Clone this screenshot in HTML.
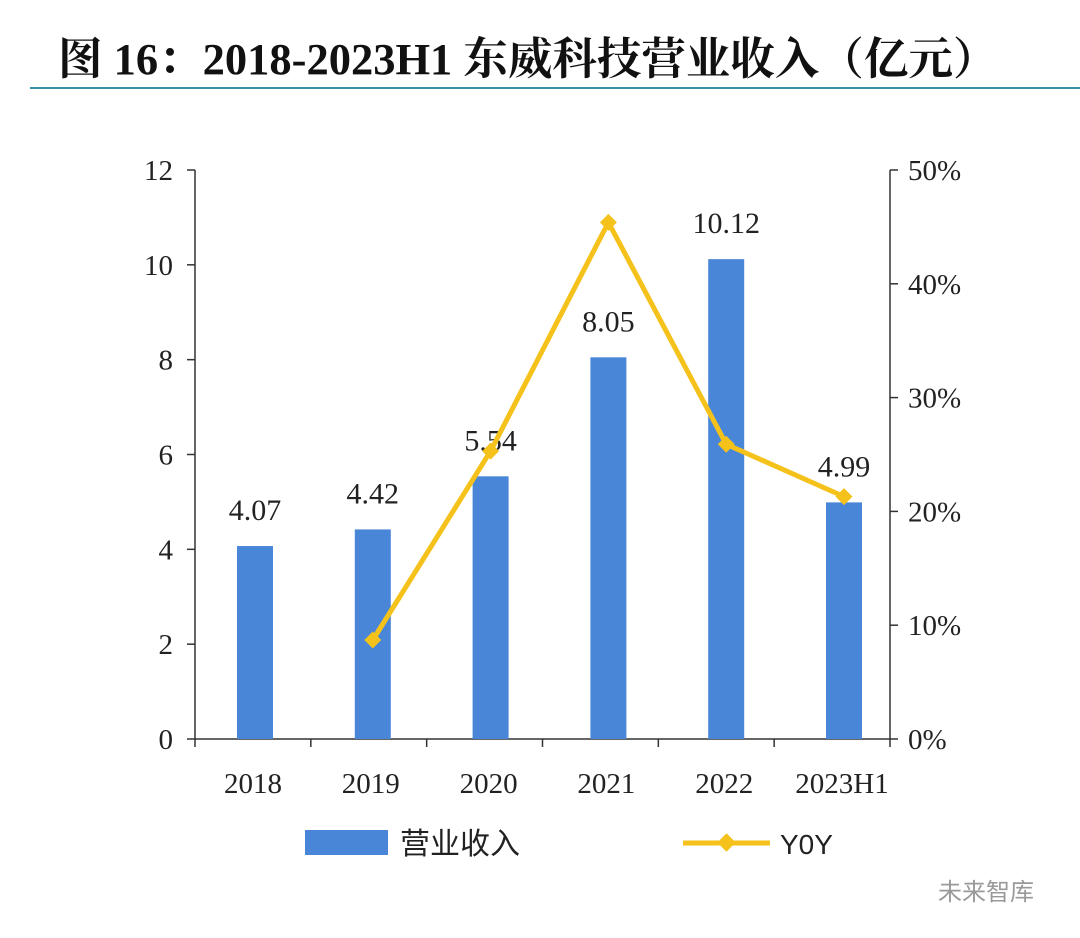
<!DOCTYPE html>
<html><head><meta charset="utf-8">
<style>
body{margin:0;background:#fff;width:1080px;height:938px;overflow:hidden;font-family:"Liberation Serif","Noto Serif CJK SC",serif;}
svg{display:block}
</style></head>
<body>
<svg width="1080" height="938">
<text x="58" y="74" font-size="44.5" font-family="Liberation Serif, Noto Serif CJK SC, serif" font-weight="bold" fill="#111">图 16：2018-2023H1 东威科技营业收入（亿元）</text>
<rect x="30" y="87" width="1050" height="2" fill="#3a8fa8"/>
<g id="plot"></g>
<g>
<rect x="305" y="830" width="83" height="25" fill="#4a86d8"/>
<text x="400" y="854" font-size="30" font-family="Liberation Sans, Noto Sans CJK SC, sans-serif" fill="#222">营业收入</text>
<line x1="683" y1="843" x2="770" y2="843" stroke="#f5c21b" stroke-width="5"/>
<rect x="720" y="836" width="13" height="13" fill="#f5c21b" transform="rotate(45 726.5 842.5)"/>
<text x="780" y="854" font-size="28" font-family="Liberation Sans, sans-serif" fill="#222">Y0Y</text>
</g>
<text x="938" y="900" font-size="24" font-family="Liberation Sans, Noto Sans CJK SC, sans-serif" fill="#999">未来智库</text>
</svg>
<script>
const categories=["2018","2019","2020","2021","2022","2023H1"];
const revenue=[4.07,4.42,5.54,8.05,10.12,4.99];
const revenueLabels=["4.07","4.42","5.54","8.05","10.12","4.99"];
const yoy=[null,8.7,25.3,45.4,25.9,21.3];
const leftTicks=[0,2,4,6,8,10,12];
const rightTicks=[0,10,20,30,40,50];
const NS="http://www.w3.org/2000/svg";
const g=document.getElementById('plot');
const X0=195,X1=890,Y0=739,Y1=170;
const yL=v=>Y0-(v/12)*(Y0-Y1);
const yR=v=>Y0-(v/50)*(Y0-Y1);
const xC=i=>255+i*117.8;
function mk(tag,attrs){const e=document.createElementNS(NS,tag);for(const k in attrs)e.setAttribute(k,attrs[k]);g.appendChild(e);return e;}
let e;
e=mk('line',{x1:X0,y1:Y1,x2:X0,y2:Y0,stroke:'#333','stroke-width':1.5});


e=mk('line',{x1:X1,y1:Y1,x2:X1,y2:Y0,stroke:'#333','stroke-width':1.5});


e=mk('line',{x1:X0,y1:Y0,x2:X1,y2:Y0,stroke:'#333','stroke-width':1.5});


leftTicks.forEach(t=>{
 e=mk('line',{x1:X0-8,y1:yL(t),x2:X0,y2:yL(t),stroke:'#333','stroke-width':1.5});
 
 
 e=mk('text',{x:X0-22,y:yL(t)+10,'font-size':29,'text-anchor':'end',fill:'#222'});e.textContent=t;
 
 
});
rightTicks.forEach(t=>{
 e=mk('line',{x1:X1,y1:yR(t),x2:X1+8,y2:yR(t),stroke:'#333','stroke-width':1.5});
 
 
 e=mk('text',{x:X1+18,y:yR(t)+10,'font-size':29,fill:'#222'});e.textContent=t+'%';
 
 
});
for(let i=0;i<=6;i++){
 const xx=X0+i*(X1-X0)/6;
 e=mk('line',{x1:xx,y1:Y0,x2:xx,y2:Y0+8,stroke:'#333','stroke-width':1.5});
 
 
}
categories.forEach((c,i)=>{
 e=mk('rect',{x:xC(i)-18,y:yL(revenue[i]),width:36,height:Y0-yL(revenue[i]),fill:'#4a86d8'});
 
 
 e=mk('text',{x:xC(i),y:yL(revenue[i])-26,'font-size':30,'text-anchor':'middle',fill:'#222'});e.textContent=revenueLabels[i];
 
 
 e=mk('text',{x:xC(i)-2,y:793,'font-size':29,'text-anchor':'middle',fill:'#222'});e.textContent=c;
 
 
});
const pts=yoy.map((v,i)=>v==null?null:[xC(i),yR(v)]).filter(p=>p);
e=mk('polyline',{points:pts.map(p=>p.join(',')).join(' '),fill:'none',stroke:'#f5c21b','stroke-width':5,'stroke-linejoin':'round'});


pts.forEach(p=>{
 e=mk('rect',{x:p[0]-6,y:p[1]-6,width:12,height:12,fill:'#f5c21b',transform:`rotate(45 ${p[0]} ${p[1]})`});
 
 
});
</script>
</body></html>
